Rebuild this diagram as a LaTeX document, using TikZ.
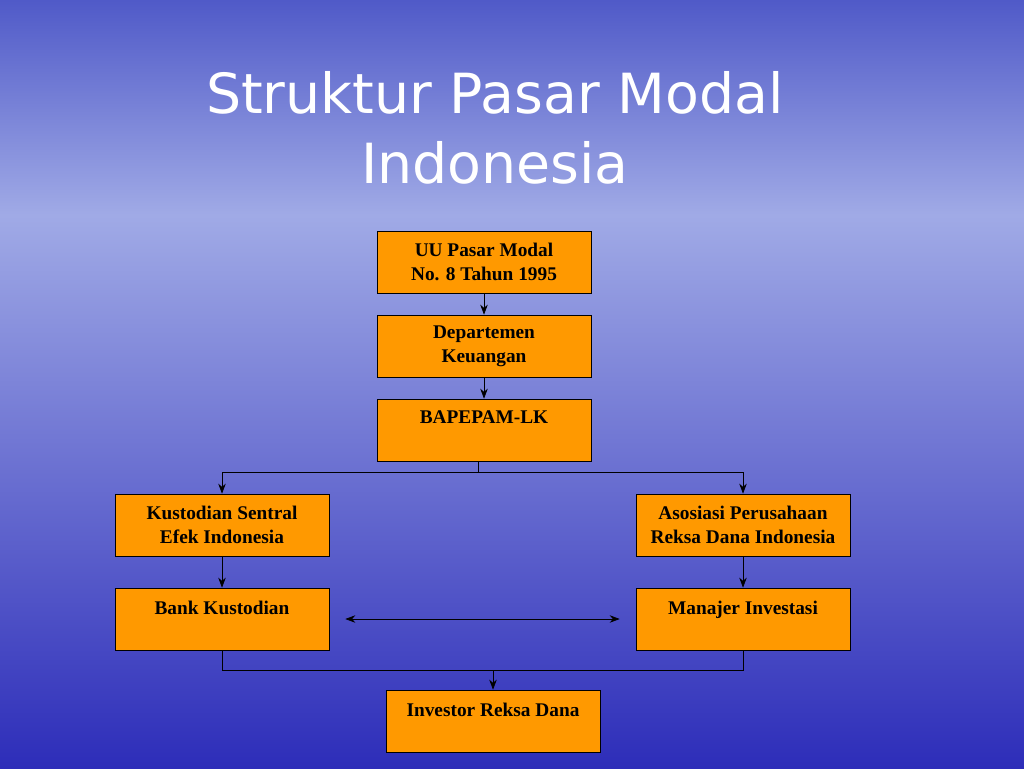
\documentclass[tikz,border=0pt]{standalone}
\usepackage{fontspec}
\setmainfont{Liberation Serif}
\newfontfamily\titlefont{DejaVu Sans}
\usetikzlibrary{arrows.meta,positioning}
\definecolor{skytop}{RGB}{80,90,200}
\definecolor{horizon}{RGB}{160,170,230}
\definecolor{seadeep}{RGB}{45,45,185}
\definecolor{boxfill}{RGB}{255,153,0}

\begin{document}
\begin{tikzpicture}[x=0.02cm, y=-0.02cm,
  org/.style={draw=black, fill=boxfill, minimum width=4.28cm, minimum height=1.24cm, inner sep=0pt, font=\bfseries\fontsize{11}{13.6}\selectfont, align=center},
  lbl/.style={anchor=north, font=\bfseries\fontsize{11}{13.6}\selectfont},
  arr/.style={-{Stealth[length=2mm]}, thin},
  title/.style={font=\titlefont\fontsize{31.5}{40}\selectfont, text=white, align=center}
]
% Background
\shade[top color=skytop, bottom color=horizon] (0,0) rectangle (1024,215);
\shade[top color=horizon, middle color=horizon!40!seadeep, bottom color=seadeep] (0,215) rectangle (1024,768);
\useasboundingbox (0,0) rectangle (1024,768);

% Title
\node[title] (head) at (495,128) {Struktur Pasar Modal\\Indonesia};

% Boxes
\node[org] (uu)   at (484,262) {UU Pasar Modal\\No. 8 Tahun 1995};
\node[org] (dep)  at (484,346) {Departemen\\Keuangan};
\node[org] (bap)  at (484,430) {};
\node[lbl] at (484,405) {BAPEPAM-LK};
\node[org] (ksei) at (222,525) {Kustodian Sentral\\Efek Indonesia};
\node[org] (aprd) at (743,525) {Asosiasi Perusahaan\\Reksa Dana Indonesia};
\node[org] (bank) at (222,619) {};
\node[lbl] at (222,595) {Bank Kustodian};
\node[org] (mi)   at (743,619) {};
\node[lbl] at (743,595) {Manajer Investasi};
\node[org] (inv)  at (493,721) {};
\node[lbl] at (493,697) {Investor Reksa Dana};

% Connectors
\draw[arr] (uu) -- (dep);
\draw[arr] (dep) -- (bap);
\coordinate (split) at (478,472);
\draw (bap.south -| split) -- (split);
\draw[arr] (split) -| (ksei.north);
\draw[arr] (split) -| (aprd.north);
\draw[arr] (ksei) -- (bank);
\draw[arr] (aprd) -- (mi);
\draw[{Stealth[length=2mm]}-{Stealth[length=2mm]}, thin] ([xshift=0.32cm]bank.east) -- ([xshift=-0.32cm]mi.west);
\coordinate (join) at (493,670);
\draw (bank.south) |- (join) -| (mi.south);
\draw[arr] (join) -- (inv);
\end{tikzpicture}
\end{document}
